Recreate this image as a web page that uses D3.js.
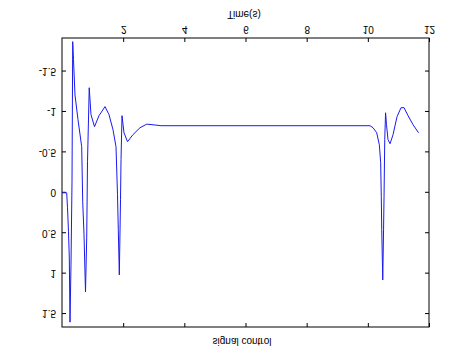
<!DOCTYPE html>
<html>
<head>
<meta charset="utf-8">
<script src="https://cdn.jsdelivr.net/npm/d3@7"></script>
<style>
  body { margin: 0; background: #fff; }
  text { font-family: "Liberation Sans", Arial, sans-serif; }
</style>
</head>
<body>
<div id="wrapper"></div>
<script>
// Time (s) and control signal
const timeValues = [0, 0.154, 0.18, 0.213, 0.239, 0.262, 0.294, 0.327, 0.35, 0.376,
  0.425, 0.523, 0.644, 0.677, 0.72, 0.768, 0.808, 0.834, 0.89, 0.948,
  1.063, 1.21, 1.406, 1.537, 1.668, 1.766, 1.815, 1.841, 1.874, 1.913,
  1.93, 1.962, 2.027, 2.142, 2.32, 2.55, 2.77, 2.943, 3.24, 10.07,
  10.17, 10.29, 10.376, 10.42, 10.44, 10.455, 10.488, 10.514, 10.53, 10.553,
  10.58, 10.61, 10.66, 10.726, 10.824, 10.955, 11.086, 11.184, 11.315, 11.478, 11.658];
const signalValues = [0, 0, 0.186, 0.483, 0.805, 1.6, 0.892, -0.136, -1.87, -1.65,
  -1.21, -0.905, -0.57, 0.11, 0.52, 1.227, 0.558, -0.384, -1.30, -0.967,
  -0.818, -0.954, -1.066, -0.967, -0.78, -0.57, 0.025, 0.458, 1.016, 0.087,
  -0.409, -0.954, -0.743, -0.632, -0.719, -0.805, -0.849, -0.843, -0.83, -0.83,
  -0.805, -0.743, -0.595, -0.372, 0.05, 0.458, 1.078, 0.458, 0.05, -0.657,
  -0.99, -0.843, -0.657, -0.607, -0.719, -0.942, -1.053, -1.053, -0.954, -0.843, -0.743];
const xTicks = [2, 4, 6, 8, 10, 12];
const yTicks = [-1.5, -1, -0.5, 0, 0.5, 1, 1.5];
const yTickLabels = ["-1.5", "-1", "-0.5", "0", "0.5", "1", "1.5"];

const width = 474;
const height = 355;
const box = { left: 62, right: 429, top: 28, bottom: 317 };

const svg = d3.select("#wrapper")
  .append("svg")
    .attr("width", width)
    .attr("height", height);

// the whole figure is shown mirrored top-to-bottom
const fig = svg.append("g")
  .attr("transform", `translate(0, ${height}) scale(1, -1)`);

const x = d3.scaleLinear().domain([0, 12]).range([box.left, box.right]);
const y = d3.scaleLinear().domain([-1.915, 1.66]).range([box.bottom, box.top]);

const tickLen = 4;

fig.append("g")
    .attr("transform", `translate(0, ${box.bottom})`)
    .call(d3.axisBottom(x).tickValues(xTicks).tickSizeInner(-tickLen).tickSizeOuter(0).tickPadding(5))
    .call(g => g.select(".domain").remove());

fig.append("g")
    .attr("transform", `translate(0, ${box.top})`)
    .call(d3.axisTop(x).tickValues(xTicks).tickSizeInner(-tickLen).tickSizeOuter(0).tickFormat(""))
    .call(g => g.select(".domain").remove());

fig.append("g")
    .attr("transform", `translate(${box.left}, 0)`)
    .call(d3.axisLeft(y).tickValues(yTicks).tickSizeInner(-tickLen).tickSizeOuter(0).tickPadding(6)
      .tickFormat((d, i) => yTickLabels[i]))
    .call(g => g.select(".domain").remove());

fig.append("g")
    .attr("transform", `translate(${box.right}, 0)`)
    .call(d3.axisRight(y).tickValues(yTicks).tickSizeInner(-tickLen).tickSizeOuter(0).tickFormat(""))
    .call(g => g.select(".domain").remove());

fig.selectAll(".tick text")
    .style("font-family", "'Liberation Sans', Arial, sans-serif")
    .style("font-size", "10px")
    .attr("fill", "#000");

fig.append("rect")
    .attr("x", box.left)
    .attr("y", box.top)
    .attr("width", box.right - box.left)
    .attr("height", box.bottom - box.top)
    .attr("fill", "none")
    .attr("stroke", "#000")
    .attr("stroke-width", 1);

const line = d3.line()
  .x((d, i) => x(timeValues[i]))
  .y(d => y(d));

fig.append("path")
    .datum(signalValues)
    .attr("fill", "none")
    .attr("stroke", "#1a1aee")
    .attr("stroke-width", 1)
    .attr("d", line);

fig.append("text")
    .attr("x", 244)
    .attr("y", 344)
    .attr("text-anchor", "middle")
    .style("font-size", "10px")
    .text("Time(s)");

fig.append("text")
    .attr("x", 242)
    .attr("y", 17)
    .attr("text-anchor", "middle")
    .style("font-size", "10px")
    .text("signal control");
</script>
</body>
</html>
